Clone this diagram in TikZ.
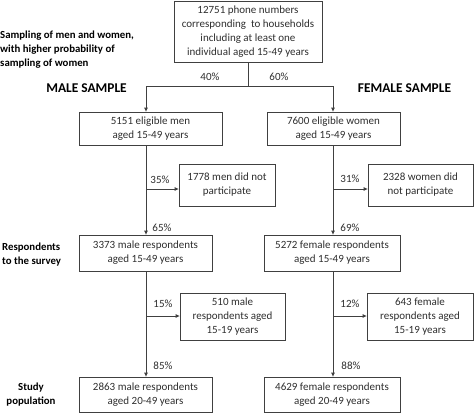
\documentclass[tikz,border=0pt]{standalone}
\usepackage{fontspec}
\setmainfont{Carlito}
\usetikzlibrary{arrows.meta}
\definecolor{ln}{gray}{0.25}
\definecolor{tx}{gray}{0.18}
\begin{document}
\begin{tikzpicture}[x=1pt,y=-1pt,
  box/.style={draw=ln,line width=0.8pt,align=center,inner sep=0pt,text=tx,font=\fontsize{11}{14}\selectfont},
  pct/.style={font=\fontsize{11}{13}\selectfont,inner sep=0pt,text=tx},
  side/.style={font=\bfseries\fontsize{10.8}{14}\selectfont,align=left,inner sep=0pt},
  head/.style={font=\bfseries\fontsize{13.4}{15}\selectfont,inner sep=0pt},
  conn/.style={draw=ln,line width=0.8pt},
  arr/.style={draw=ln,line width=0.8pt,-{Triangle[length=4pt,width=3.5pt]}}]
\useasboundingbox (0,0) rectangle (474,413);

\node[box,minimum width=148pt,minimum height=61pt] (top) at (248,31.5)
  {12751 phone numbers\\corresponding\ \ to households\\including at least one\\individual aged 15-49 years};

\node[box,minimum width=143pt,minimum height=33pt] (m1) at (150.5,128.5) {5151 eligible men\\aged 15-49 years};
\node[box,minimum width=133pt,minimum height=33pt] (f1) at (333.5,128.5) {7600 eligible women\\aged 15-49 years};

\node[box,minimum width=96pt,minimum height=42pt] (mn) at (227,185) {1778 men did not\\participate};
\node[box,minimum width=105pt,minimum height=42pt] (fn) at (420.5,185) {2328 women did\\not participate};

\node[box,minimum width=133pt,minimum height=36pt] (m2) at (145.5,253) {3373 male respondents\\aged 15-49 years};
\node[box,minimum width=136pt,minimum height=36pt] (f2) at (332,253) {5272 female respondents\\aged 15-49 years};

\node[box,minimum width=105pt,minimum height=47pt] (my) at (232.5,316.5) {510 male\\respondents aged\\15-19 years};
\node[box,minimum width=106pt,minimum height=47pt] (fy) at (420,316.5) {643 female\\respondents aged\\15-19 years};

\node[box,minimum width=133pt,minimum height=35pt] (m3) at (145.5,394.5) {2863 male respondents\\aged 20-49 years};
\node[box,minimum width=136pt,minimum height=35pt] (f3) at (332,394.5) {4629 female respondents\\aged 20-49 years};

% side labels
\node[side,anchor=west] (s1) at (0,49.5) {Sampling of men and women,\\with higher probability of\\sampling of women};
\node[head] (mh) at (86.5,88) {MALE SAMPLE};
\node[head] (fh) at (404.5,88) {FEMALE SAMPLE};
\node[side,align=left,anchor=west] (s2) at (2,254.5) {Respondents\\to the survey};
\node[side,align=center] (s3) at (31,395) {Study\\population};

% connectors
\coordinate (sp) at (248,86);
\coordinate (spl) at (146,86);
\coordinate (spr) at (333,86);
\draw[conn] (top.south -| sp) -- (sp);
\draw[conn] (spl) -- (spr);
\draw[arr] (spl) -- (m1.north -| spl);
\draw[arr] (spr) -- (f1.north -| spr);
\node[pct] (p40) at (210,77) {40\%};
\node[pct] (p60) at (279,77) {60\%};

\coordinate (bm1) at (146,189);
\coordinate (bf1) at (333,189);
\draw[arr] (m1.south -| bm1) -- (m2.north -| bm1);
\draw[arr] (bm1) -- (bm1 -| mn.west);
\draw[arr] (f1.south -| bf1) -- (f2.north -| bf1);
\draw[arr] (bf1) -- (bf1 -| fn.west);
\node[pct] (p35) at (160,180) {35\%};
\node[pct] (p65) at (162,228) {65\%};
\node[pct] (p31) at (350,179) {31\%};
\node[pct] (p69) at (350,228) {69\%};

\coordinate (bm2) at (146,316);
\coordinate (bf2) at (333,316);
\draw[arr] (m2.south -| bm2) -- (m3.north -| bm2);
\draw[arr] (bm2) -- (bm2 -| my.west);
\draw[arr] (f2.south -| bf2) -- (f3.north -| bf2);
\draw[arr] (bf2) -- (bf2 -| fy.west);
\node[pct] (p15) at (163,304) {15\%};
\node[pct] (p85) at (163,366) {85\%};
\node[pct] (p12) at (350,304) {12\%};
\node[pct] (p88) at (351,366) {88\%};
\end{tikzpicture}
\end{document}
